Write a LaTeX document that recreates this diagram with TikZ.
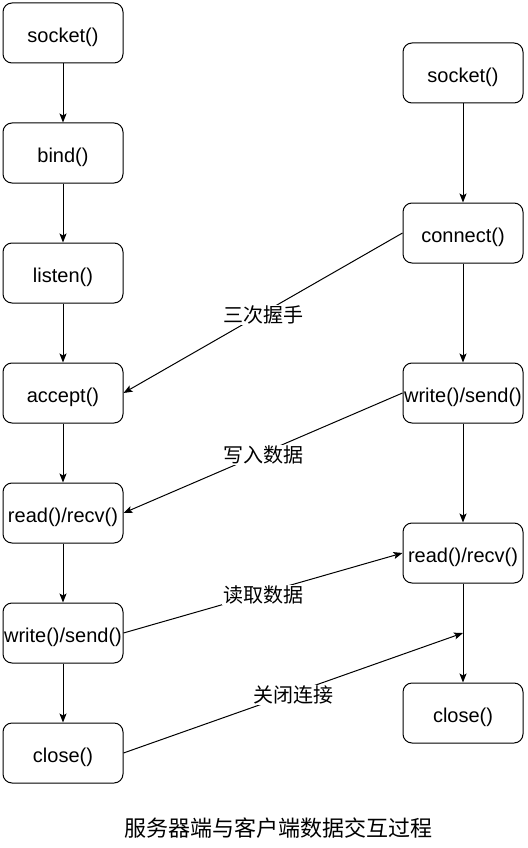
\documentclass[tikz,border=0pt]{standalone}
\usepackage{fontspec}
\setmainfont{Liberation Sans}
\newfontfamily\cjk{Noto Sans CJK SC}
\usetikzlibrary{arrows.meta,calc}
\tikzset{
  box/.style={draw, line width=1pt, rounded corners=9pt, minimum width=120pt, minimum height=60pt, inner sep=0pt, text height=18.6pt, text depth=0pt, font=\fontsize{20}{24}\selectfont},
  conn/.style={line width=1pt, -{Stealth[length=9pt,width=7pt,inset=2pt]}},
  lbl/.style={fill=white, inner sep=1pt, yshift=-2pt, font=\cjk\fontsize{20}{24}\selectfont},
}
\begin{document}
\begin{tikzpicture}[x=1pt,y=-1pt]
\useasboundingbox (0,0) rectangle (527,848);
% server side
\node[box] (ss) at (63,33) {socket()};
\node[box] (sb) at (63,153) {bind()};
\node[box] (sl) at (63,273) {listen()};
\node[box] (sa) at (63,393) {accept()};
\node[box] (sr) at (63,513) {read()/recv()};
\node[box] (sw) at (63,633) {write()/send()};
\node[box] (sc) at (63,753) {close()};
% client side
\node[box] (cs) at (463,73) {socket()};
\node[box] (cc) at (463,233) {connect()};
\node[box] (cw) at (463,393) {write()/send()};
\node[box] (cr) at (463,553) {read()/recv()};
\node[box] (cl) at (463,713) {close()};
\coordinate (m) at ($(cr.south)!0.5!(cl.north)$);
% vertical arrows
\draw[conn] (ss) -- (sb);
\draw[conn] (sb) -- (sl);
\draw[conn] (sl) -- (sa);
\draw[conn] (sa) -- (sr);
\draw[conn] (sr) -- (sw);
\draw[conn] (sw) -- (sc);
\draw[conn] (cs) -- (cc);
\draw[conn] (cc) -- (cw);
\draw[conn] (cw) -- (cr);
\draw[conn] (cr) -- (cl);
% diagonal arrows
\draw[conn] (cc.west) -- node[lbl] (l1) {三次握手} (sa.east);
\draw[conn] (cw.west) -- node[lbl] (l2) {写入数据} (sr.east);
\draw[conn] (sw.east) -- node[lbl] (l3) {读取数据} (cr.west);
\draw[conn] (sc.east) -- node[lbl] (l4) {关闭连接} (m);
% title
\node[font=\cjk\fontsize{22}{26}\selectfont] (title) at (278,828) {服务器端与客户端数据交互过程};
\end{tikzpicture}
\end{document}
